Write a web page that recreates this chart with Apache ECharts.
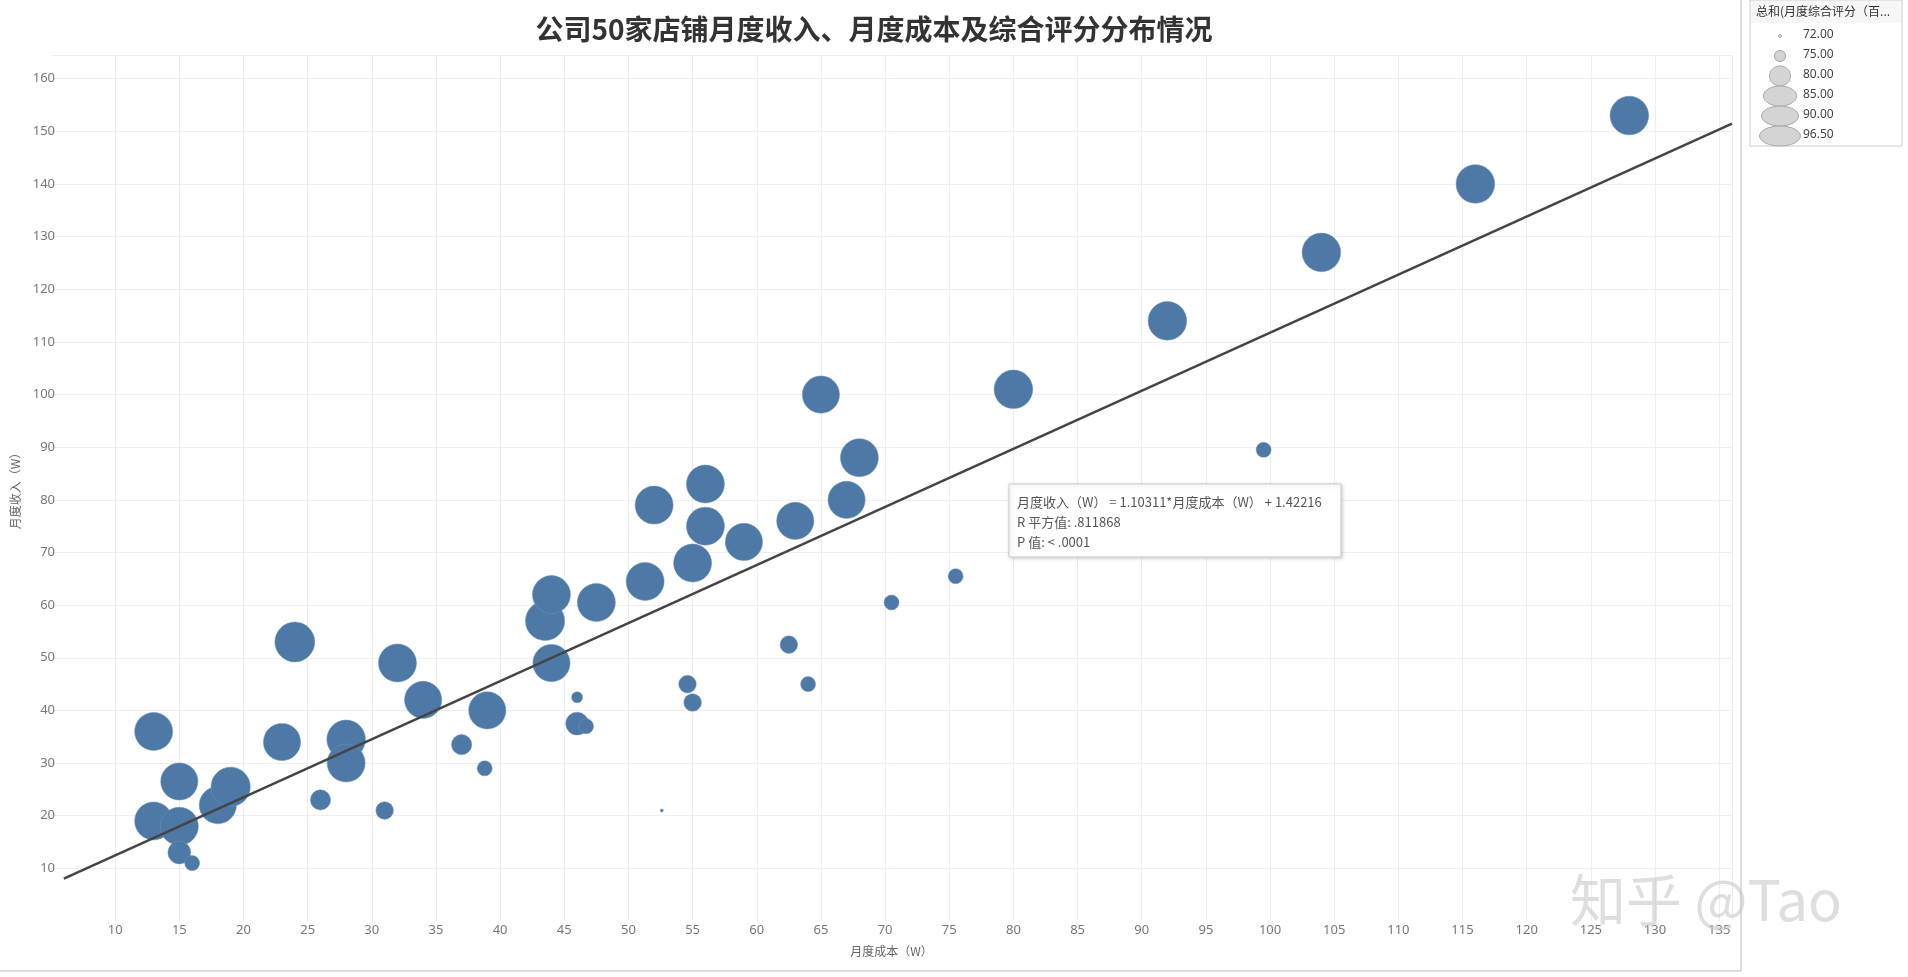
<!DOCTYPE html>
<html><head><meta charset="utf-8">
<script src="https://cdn.jsdelivr.net/npm/echarts@6/dist/echarts.min.js"></script>
<style>html,body{margin:0;padding:0;background:#fff}#c{width:1908px;height:977px}</style>
</head><body><div id="c"></div>
<script>
const cost = [13,13,15,15,15,16,18,19,23,24,26,28,28,31,32,34,37,38.8,39,43.5,44,44,46,46,46.7,47.5,51.3,52,52.6,54.6,55,55,56,56,59,62.5,63,64,65,67,68,70.5,75.5,80,92,99.5,104,116,128];
const revenue = [36,19,26.5,18,13,11,22,25.5,34,53,23,34.5,30,21,49,42,33.5,29,40,57,62,49,42.5,37.5,37,60.5,64.5,79,21,45,41.5,68,83,75,72,52.5,76,45,100,80,88,60.5,65.5,101,114,89.5,127,140,153];
const score = [90,90,89,90,78,75,89,92,89,93,77,91,90,76,90,89,77,75,89,92,90,89,74,78,75,90,90,90,72,76,76,90,90,90,89,76,89,75,89,89,90,75,75,91,91,75,91,91,91];
const legendVals = [72,75,80,85,90,96.5];
const slope = 1.10311, intercept = 1.42216;
const lineX = [6, 136];

function diam(s){
  const pts=[[72,3],[75,15],[80,28],[85,34],[90,38],[96.5,42]];
  if(s<=72) return 3;
  for(let i=1;i<pts.length;i++){ if(s<=pts[i][0]){const [a,da]=pts[i-1],[b,db]=pts[i];return da+(db-da)*(s-a)/(b-a);} }
  return 42;
}
const pts = cost.map((c,i)=>[c,revenue[i],score[i]]);
const chart = echarts.init(document.getElementById('c'));
const lab = {color:'#777',fontSize:13,fontFamily:'Noto Sans'};
const legendG = [];
legendG.push({type:'rect',shape:{x:1750,y:0,width:152,height:146},style:{fill:'#fff',stroke:'#ccc'}});
legendG.push({type:'rect',shape:{x:1751,y:1,width:150,height:22},style:{fill:'#f7f7f7'}});
legendG.push({type:'text',x:1756,y:5,style:{text:'总和(月度综合评分（百...',fill:'#333',font:'12px "Noto Sans CJK SC"'}});
legendVals.forEach((v,i)=>{
  const cy=36+i*20, r=diam(v)/2*0.75;
  legendG.push({type:'ellipse',shape:{cx:1780,cy:cy,rx:Math.max(r*(i>2?1.3:1),1.5),ry:Math.min(Math.max(r,1.5),10)},style:{fill:'#d4d4d4',stroke:'#aaa'}});
  legendG.push({type:'text',x:1803,y:cy-7,style:{text:v.toFixed(2),fill:'#444',font:'12px "Noto Sans"'}});
});
chart.setOption({
  animation:false,
  title:{text:'公司50家店铺月度收入、月度成本及综合评分分布情况',left:869,textAlign:'center',top:10,textStyle:{fontSize:28,fontWeight:'bold',color:'#333',fontFamily:'Noto Sans CJK SC'}},
  grid:{left:51,right:176,top:55,bottom:56,outerBoundsMode:'none',containLabel:false},
  xAxis:{type:'value',min:5,max:136,interval:5,name:'月度成本（W）',nameLocation:'middle',nameGap:24,
    nameTextStyle:{color:'#666',fontSize:12,fontFamily:'Noto Sans CJK SC'},
    axisLine:{show:false},axisTick:{show:false},
    axisLabel:Object.assign({},lab,{margin:3,showMinLabel:false,showMaxLabel:false}),
    splitLine:{showMinLine:false,lineStyle:{color:'#eee'}}},
  yAxis:{type:'value',min:0,max:164.5,interval:10,name:'月度收入（W）',nameLocation:'middle',nameGap:30,
    nameTextStyle:{color:'#666',fontSize:12,fontFamily:'Noto Sans CJK SC'},
    axisLine:{show:false},axisTick:{show:false},
    axisLabel:Object.assign({},lab,{margin:-4,showMinLabel:false,showMaxLabel:false}),
    splitLine:{showMinLine:false,lineStyle:{color:'#eee'}}},
  series:[
    {type:'scatter',data:pts,symbolSize:d=>diam(d[2]),itemStyle:{color:'#4e79a7',opacity:1,borderColor:'#6a93bd',borderWidth:0.5}},
    {type:'line',data:lineX.map(x=>[x,slope*x+intercept]),symbol:'none',lineStyle:{color:'#444',width:2.5},z:5}
  ],
  graphic:[
    {type:'line',shape:{x1:1741,y1:0,x2:1741,y2:971},style:{stroke:'#bbb',lineWidth:1}},
    {type:'line',shape:{x1:0,y1:971,x2:1741,y2:971},style:{stroke:'#bbb',lineWidth:1}},
    {type:'rect',shape:{x:1009,y:484,width:332,height:73},style:{fill:'#fff',stroke:'#ccc',shadowBlur:4,shadowColor:'rgba(0,0,0,0.2)',shadowOffsetX:1,shadowOffsetY:1},z:10},
    {type:'text',x:1017,y:492,z:11,style:{text:'月度收入（W） = 1.10311*月度成本（W） + 1.42216\nR 平方值: .811868\nP 值: < .0001',lineHeight:20,fill:'#555',font:'13px "Noto Sans CJK SC"'}},
    {type:'text',x:1570,y:872,z:12,style:{text:'知乎 @Tao',fill:'rgba(200,200,200,0.6)',font:'56px "Noto Sans CJK SC"'}},
    ...legendG
  ]
});
</script></body></html>
